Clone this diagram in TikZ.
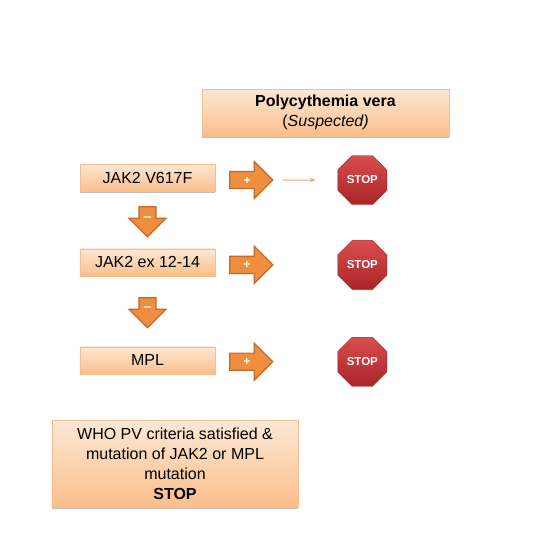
\documentclass[tikz,border=0pt]{standalone}
\usepackage{fontspec}
\setmainfont{Liberation Sans}
\usetikzlibrary{arrows.meta,positioning,shadows,shapes.arrows,shapes.geometric}
\definecolor{boxtop}{HTML}{FDE8D4}
\definecolor{boxbot}{HTML}{FABE8B}
\definecolor{boxln}{HTML}{F3BE90}
\definecolor{arfill}{HTML}{EE8E3F}
\definecolor{arln}{HTML}{C5692B}
\definecolor{stoptop}{HTML}{DB4C4E}
\definecolor{stopbot}{HTML}{A92528}
\tikzset{
  lab/.style  ={draw=boxln,top color=boxtop,bottom color=boxbot,align=center,
                inner sep=0pt,font=\fontsize{16}{20}\selectfont,
                drop shadow={opacity=.5,shadow xshift=0pt,shadow yshift=-1.5pt}},
  gene/.style ={lab,minimum width=135pt,minimum height=27pt},
  plusar/.style ={single arrow,draw=arln,line width=1.2pt,fill=arfill,text=white,
                inner sep=3pt,text height=9pt,text depth=1pt,
                font=\bfseries\fontsize{12}{12}\selectfont,
                minimum width=36pt,minimum height=43pt,single arrow head extend=10pt},
  minusar/.style ={plusar,shape border rotate=270,minimum width=37pt,minimum height=30pt,
                text height=10pt,text depth=3pt,single arrow head extend=9pt,
                font=\bfseries\fontsize{15}{15}\selectfont,text=white!85!arfill},
  stopn/.style ={regular polygon,regular polygon sides=8,
                minimum size=53pt,inner sep=0pt,draw=stopbot,top color=stoptop,
                bottom color=stopbot,text=white,font=\bfseries\fontsize{11.5}{12}\selectfont,
                drop shadow={opacity=.3,shadow xshift=0pt,shadow yshift=-1pt}},
  ar/.style   ={-{Stealth[length=2mm]},line width=1pt,draw=boxbot!70!arln},
}
\begin{document}
\begin{tikzpicture}[x=1pt,y=1pt]
\useasboundingbox[fill=white] (0,0) rectangle (550,-550);
\node[lab,minimum width=247pt,minimum height=47pt] (TIT) at (325.5,-112.5) {\textbf{Polycythemia vera}\\(\textit{Suspected)}};

\node[gene] (JV) at (147.5,-177.5) {JAK2 V617F};
\node[minusar,below=15pt of JV] (DA) {--};
\node[gene,below=11pt of DA] (JE) {JAK2 ex 12-14};
\node[minusar,below=21pt of JE] (DB) {--};
\node[gene,below=18pt of DB] (MP) {MPL};

\node[plusar,right=14pt of JV,yshift=-2.5pt] (PA) {+};
\node[plusar,right=14pt of JE,yshift=-2.5pt] (PB) {+};
\node[plusar,right=14pt of MP,yshift=-1.5pt] (PC) {+};

\node[stopn,right=64pt of PA] (SA) {STOP};
\node[stopn,right=64pt of PB] (SB) {STOP};
\node[stopn,right=64pt of PC] (SC) {STOP};

\node[lab,below=46pt of MP,xshift=27.5pt,minimum width=246pt,minimum height=87pt] (WHO) {WHO PV criteria satisfied \&\\mutation of JAK2 or MPL\\mutation\\\textbf{STOP}};

\draw[ar,shorten <=9pt,shorten >=22pt] (PA) -- (SA);
\end{tikzpicture}
\end{document}
